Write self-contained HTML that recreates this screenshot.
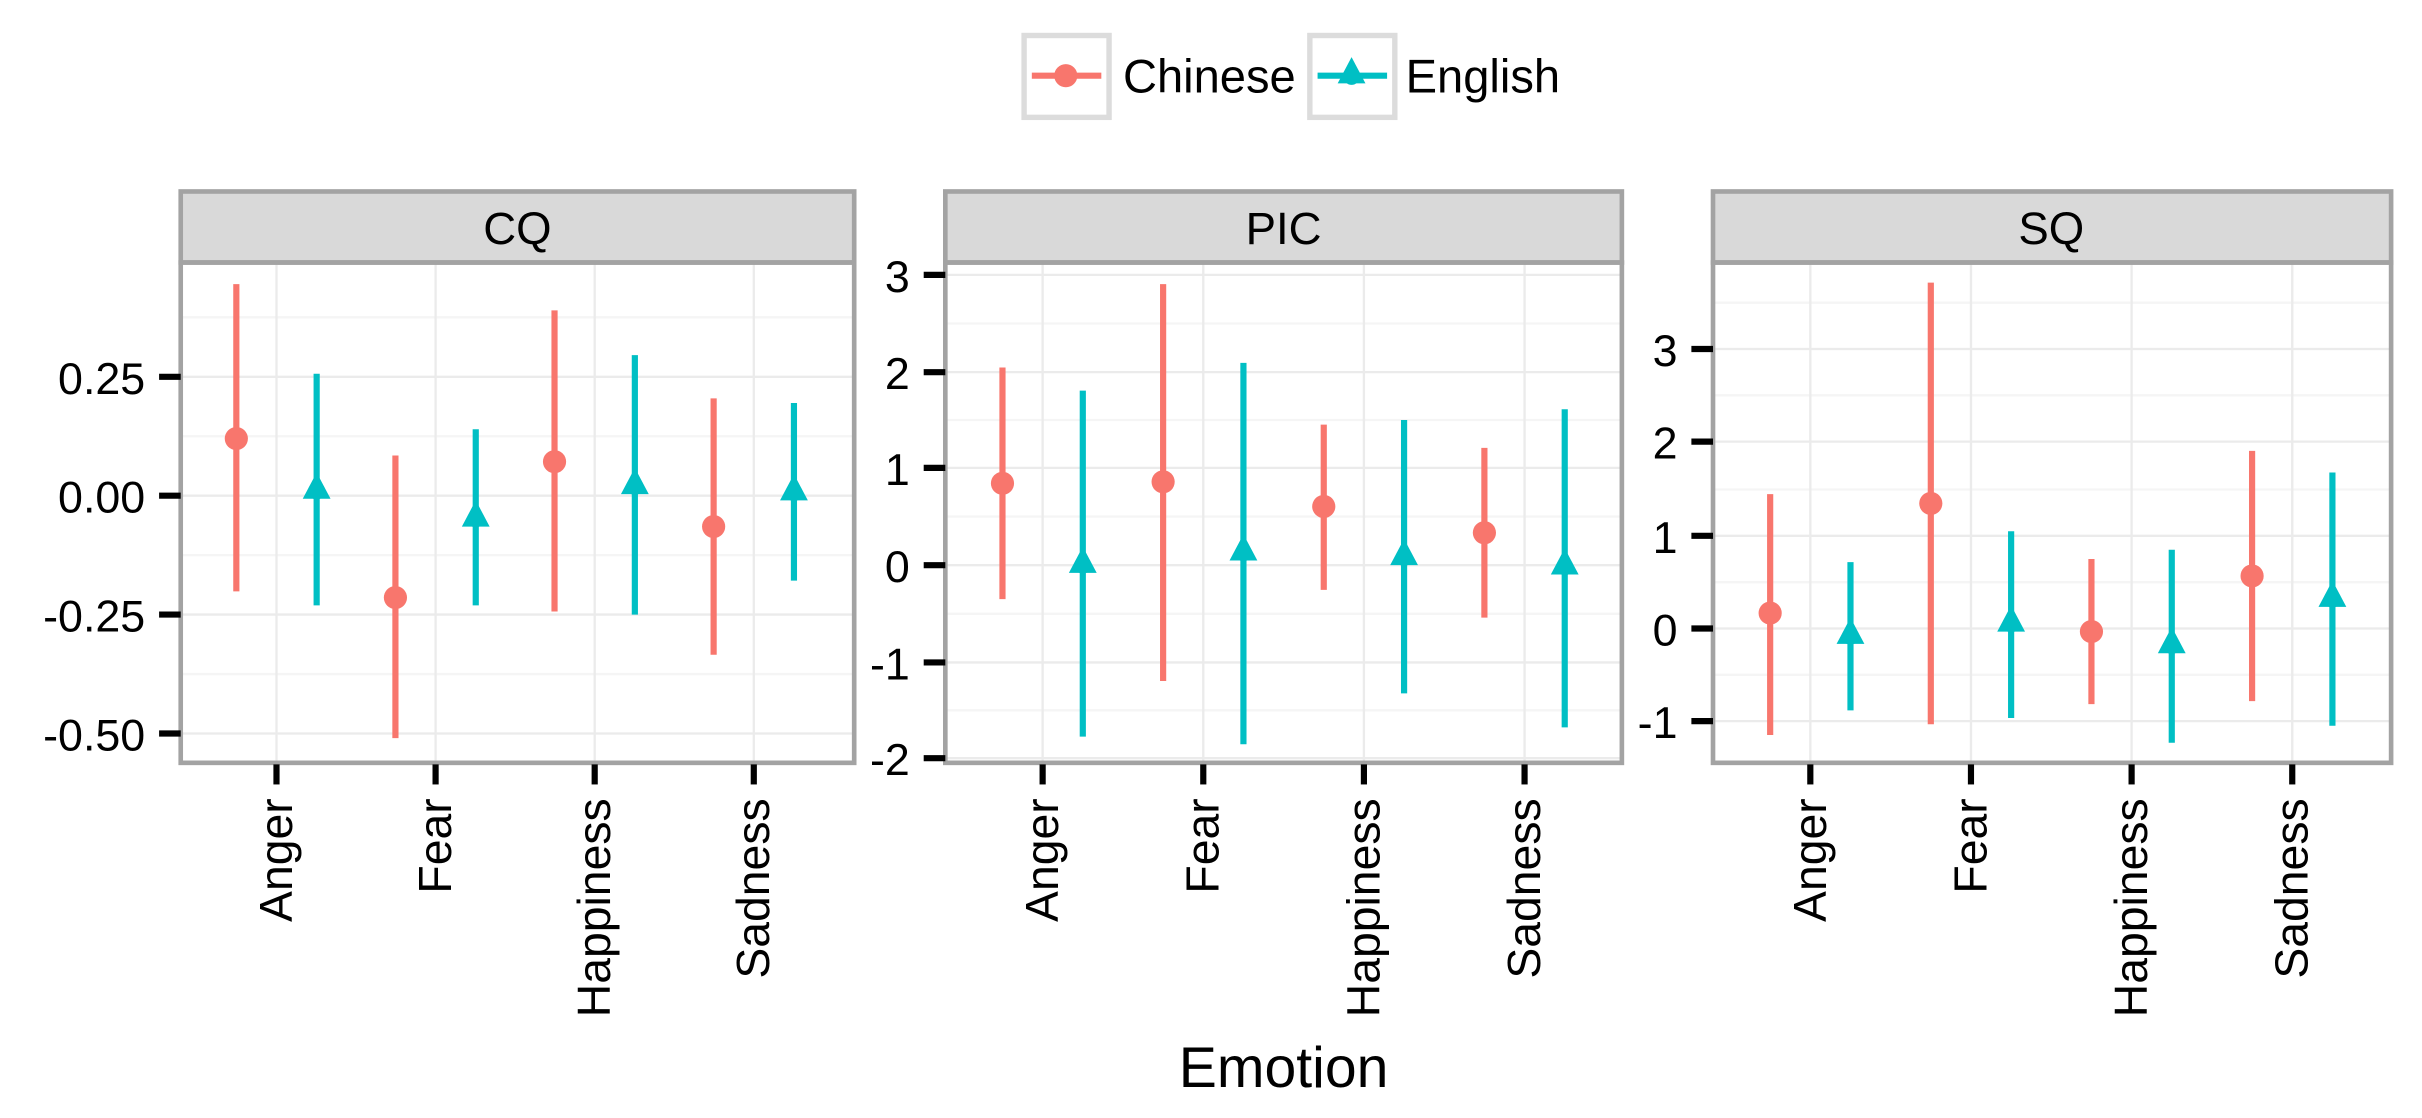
<!DOCTYPE html>
<html><head><meta charset="utf-8"><style>
html,body{margin:0;padding:0;background:#fff;}
svg{display:block;}
text{font-family:"Liberation Sans",Arial,sans-serif;fill:#000;}
</style></head><body>
<svg width="2422" height="1118" viewBox="0 0 1568 724" preserveAspectRatio="none" xmlns="http://www.w3.org/2000/svg">
<rect width="1568" height="724" fill="#fff"/>
<!-- legend -->
<rect x="663" y="23" width="55" height="53" fill="#fff" stroke="#dcdcdc" stroke-width="3.5"/>
<line x1="668" y1="49" x2="713" y2="49" stroke="#F8766D" stroke-width="4"/>
<circle cx="690" cy="49" r="7.5" fill="#F8766D"/>
<text x="727" y="60" font-size="30.5">Chinese</text>
<rect x="848" y="23" width="55" height="53" fill="#fff" stroke="#dcdcdc" stroke-width="3.5"/>
<line x1="853" y1="49" x2="898" y2="49" stroke="#00BFC4" stroke-width="4"/>
<polygon points="875,37 884,54 866,54" fill="#00BFC4"/><circle cx="875" cy="50" r="5" fill="#00BFC4"/>
<text x="910" y="60" font-size="30.5">English</text>

<g stroke-width="1.5">
<g stroke="#f5f5f5"><line x1="117" x2="553" y1="205.5" y2="205.5"/><line x1="117" x2="553" y1="282.5" y2="282.5"/><line x1="117" x2="553" y1="359.5" y2="359.5"/><line x1="117" x2="553" y1="436.5" y2="436.5"/></g>
<g stroke="#ebebeb"><line x1="117" x2="553" y1="244" y2="244"/><line x1="117" x2="553" y1="321" y2="321"/><line x1="117" x2="553" y1="398" y2="398"/><line x1="117" x2="553" y1="475" y2="475"/>
<line x1="179" x2="179" y1="170" y2="494"/><line x1="282" x2="282" y1="170" y2="494"/><line x1="385" x2="385" y1="170" y2="494"/><line x1="488" x2="488" y1="170" y2="494"/></g>
<g stroke="#f5f5f5"><line x1="612" x2="1050" y1="209.5" y2="209.5"/><line x1="612" x2="1050" y1="272" y2="272"/><line x1="612" x2="1050" y1="334.5" y2="334.5"/><line x1="612" x2="1050" y1="397.5" y2="397.5"/><line x1="612" x2="1050" y1="460" y2="460"/></g>
<g stroke="#ebebeb"><line x1="612" x2="1050" y1="178" y2="178"/><line x1="612" x2="1050" y1="241" y2="241"/><line x1="612" x2="1050" y1="303" y2="303"/><line x1="612" x2="1050" y1="366" y2="366"/><line x1="612" x2="1050" y1="429" y2="429"/><line x1="612" x2="1050" y1="491" y2="491"/>
<line x1="675" x2="675" y1="170" y2="494"/><line x1="779" x2="779" y1="170" y2="494"/><line x1="883" x2="883" y1="170" y2="494"/><line x1="987" x2="987" y1="170" y2="494"/></g>
<g stroke="#f5f5f5"><line x1="1109" x2="1548" y1="196" y2="196"/><line x1="1109" x2="1548" y1="256" y2="256"/><line x1="1109" x2="1548" y1="317" y2="317"/><line x1="1109" x2="1548" y1="377" y2="377"/><line x1="1109" x2="1548" y1="437" y2="437"/></g>
<g stroke="#ebebeb"><line x1="1109" x2="1548" y1="226" y2="226"/><line x1="1109" x2="1548" y1="286" y2="286"/><line x1="1109" x2="1548" y1="347" y2="347"/><line x1="1109" x2="1548" y1="407" y2="407"/><line x1="1109" x2="1548" y1="467" y2="467"/>
<line x1="1172" x2="1172" y1="170" y2="494"/><line x1="1276" x2="1276" y1="170" y2="494"/><line x1="1380" x2="1380" y1="170" y2="494"/><line x1="1484" x2="1484" y1="170" y2="494"/></g>
</g>

<g stroke="#a3a3a3" stroke-width="3">
<rect x="117" y="124" width="436" height="46" fill="#d9d9d9"/>
<rect x="117" y="170" width="436" height="324" fill="none"/>
<rect x="612" y="124" width="438" height="46" fill="#d9d9d9"/>
<rect x="612" y="170" width="438" height="324" fill="none"/>
<rect x="1109" y="124" width="439" height="46" fill="#d9d9d9"/>
<rect x="1109" y="170" width="439" height="324" fill="none"/>
</g>
<text x="335" y="158" font-size="29.5" text-anchor="middle">CQ</text>
<text x="831" y="158" font-size="29.5" text-anchor="middle">PIC</text>
<text x="1328" y="158" font-size="29.5" text-anchor="middle">SQ</text>

<g stroke-width="4">
<g stroke="#F8766D"><line x1="153" x2="153" y1="184" y2="383"/><line x1="256" x2="256" y1="295" y2="478"/><line x1="359" x2="359" y1="201" y2="396"/><line x1="462" x2="462" y1="258" y2="424"/>
<line x1="649" x2="649" y1="238" y2="388"/><line x1="753" x2="753" y1="184" y2="441"/><line x1="857" x2="857" y1="275" y2="382"/><line x1="961" x2="961" y1="290" y2="400"/>
<line x1="1146" x2="1146" y1="320" y2="476"/><line x1="1250" x2="1250" y1="183" y2="469"/><line x1="1354" x2="1354" y1="362" y2="456"/><line x1="1458" x2="1458" y1="292" y2="454"/></g>
<g stroke="#00BFC4"><line x1="205" x2="205" y1="242" y2="392"/><line x1="308" x2="308" y1="278" y2="392"/><line x1="411" x2="411" y1="230" y2="398"/><line x1="514" x2="514" y1="261" y2="376"/>
<line x1="701" x2="701" y1="253" y2="477"/><line x1="805" x2="805" y1="235" y2="482"/><line x1="909" x2="909" y1="272" y2="449"/><line x1="1013" x2="1013" y1="265" y2="471"/>
<line x1="1198" x2="1198" y1="364" y2="460"/><line x1="1302" x2="1302" y1="344" y2="465"/><line x1="1406" x2="1406" y1="356" y2="481"/><line x1="1510" x2="1510" y1="306" y2="470"/></g>
</g>
<g fill="#F8766D">
<circle cx="153" cy="284" r="7.5"/><circle cx="256" cy="387" r="7.5"/><circle cx="359" cy="299" r="7.5"/><circle cx="462" cy="341" r="7.5"/>
<circle cx="649" cy="313" r="7.5"/><circle cx="753" cy="312" r="7.5"/><circle cx="857" cy="328" r="7.5"/><circle cx="961" cy="345" r="7.5"/>
<circle cx="1146" cy="397" r="7.5"/><circle cx="1250" cy="326" r="7.5"/><circle cx="1354" cy="409" r="7.5"/><circle cx="1458" cy="373" r="7.5"/>
</g>
<g fill="#00BFC4">
<path d="M205,306 l9,17 h-18z M308,324 l9,17 h-18z M411,303 l9,17 h-18z M514,307 l9,17 h-18z M701,354 l9,17 h-18z M805,346 l9,17 h-18z M909,349 l9,17 h-18z M1013,355 l9,17 h-18z M1198,400 l9,17 h-18z M1302,392 l9,17 h-18z M1406,406 l9,17 h-18z M1510,376 l9,17 h-18z"/>
<circle cx="205" cy="318" r="5.5"/><circle cx="308" cy="336" r="5.5"/><circle cx="411" cy="315" r="5.5"/><circle cx="514" cy="319" r="5.5"/>
<circle cx="701" cy="366" r="5.5"/><circle cx="805" cy="358" r="5.5"/><circle cx="909" cy="361" r="5.5"/><circle cx="1013" cy="367" r="5.5"/>
<circle cx="1198" cy="412" r="5.5"/><circle cx="1302" cy="404" r="5.5"/><circle cx="1406" cy="418" r="5.5"/><circle cx="1510" cy="388" r="5.5"/>
</g>

<g stroke="#000" stroke-width="4">
<line x1="103" x2="117" y1="244" y2="244"/><line x1="103" x2="117" y1="321" y2="321"/><line x1="103" x2="117" y1="398" y2="398"/><line x1="103" x2="117" y1="475" y2="475"/>
<line x1="598" x2="612" y1="178" y2="178"/><line x1="598" x2="612" y1="241" y2="241"/><line x1="598" x2="612" y1="303" y2="303"/><line x1="598" x2="612" y1="366" y2="366"/><line x1="598" x2="612" y1="429" y2="429"/><line x1="598" x2="612" y1="491" y2="491"/>
<line x1="1095" x2="1109" y1="226" y2="226"/><line x1="1095" x2="1109" y1="286" y2="286"/><line x1="1095" x2="1109" y1="347" y2="347"/><line x1="1095" x2="1109" y1="407" y2="407"/><line x1="1095" x2="1109" y1="467" y2="467"/>
<line x1="179" x2="179" y1="495" y2="508"/><line x1="282" x2="282" y1="495" y2="508"/><line x1="385" x2="385" y1="495" y2="508"/><line x1="488" x2="488" y1="495" y2="508"/>
<line x1="675" x2="675" y1="495" y2="508"/><line x1="779" x2="779" y1="495" y2="508"/><line x1="883" x2="883" y1="495" y2="508"/><line x1="987" x2="987" y1="495" y2="508"/>
<line x1="1172" x2="1172" y1="495" y2="508"/><line x1="1276" x2="1276" y1="495" y2="508"/><line x1="1380" x2="1380" y1="495" y2="508"/><line x1="1484" x2="1484" y1="495" y2="508"/>
</g>
<g font-size="29" text-anchor="end">
<text x="94" y="255">0.25</text><text x="94" y="332">0.00</text><text x="94" y="409">-0.25</text><text x="94" y="486">-0.50</text>
<text x="589" y="189">3</text><text x="589" y="252">2</text><text x="589" y="314">1</text><text x="589" y="377">0</text><text x="589" y="440">-1</text><text x="589" y="502">-2</text>
<text x="1086" y="237">3</text><text x="1086" y="297">2</text><text x="1086" y="358">1</text><text x="1086" y="418">0</text><text x="1086" y="478">-1</text>
</g>
<g font-size="30" text-anchor="end">
<text transform="translate(189,517) rotate(-90)">Anger</text><text transform="translate(292,517) rotate(-90)">Fear</text><text transform="translate(395,517) rotate(-90)">Happiness</text><text transform="translate(498,517) rotate(-90)">Sadness</text>
<text transform="translate(685,517) rotate(-90)">Anger</text><text transform="translate(789,517) rotate(-90)">Fear</text><text transform="translate(893,517) rotate(-90)">Happiness</text><text transform="translate(997,517) rotate(-90)">Sadness</text>
<text transform="translate(1182,517) rotate(-90)">Anger</text><text transform="translate(1286,517) rotate(-90)">Fear</text><text transform="translate(1390,517) rotate(-90)">Happiness</text><text transform="translate(1494,517) rotate(-90)">Sadness</text>
</g>
<text x="831" y="704" font-size="37" text-anchor="middle">Emotion</text>
</svg>
</body></html>
